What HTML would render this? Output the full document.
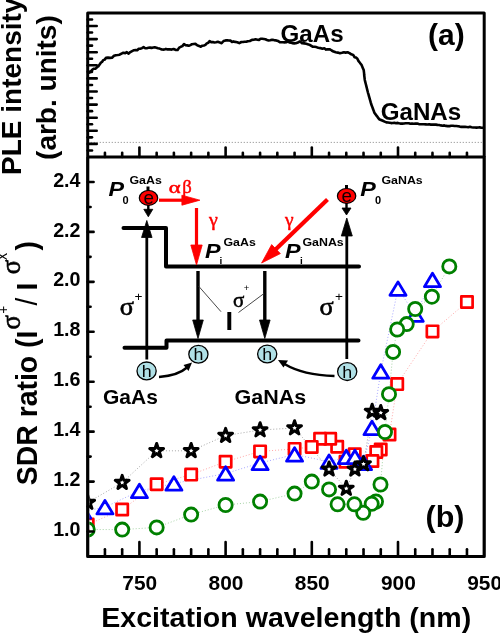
<!DOCTYPE html>
<html><head><meta charset="utf-8"><style>
html,body{margin:0;padding:0;background:#fff;overflow:hidden;}
svg{display:block;}
</style></head><body>
<svg width="500" height="634" viewBox="0 0 500 634">
<rect width="500" height="634" fill="#fff"/>
<line x1="87.7" y1="142.4" x2="484.2" y2="142.4" stroke="#999" stroke-width="1" stroke-dasharray="1.2 1.8"/>
<polyline fill="none" stroke="#000" stroke-width="2.6" stroke-linejoin="round" stroke-linecap="round" points="89.5,72.5 91.0,71.2 92.4,69.7 94.0,68.7 95.6,68.6 97.2,67.0 98.4,66.3 99.6,64.6 100.8,62.7 102.0,62.0 103.3,60.1 104.7,59.6 106.0,57.9 108.0,57.6 110.0,57.9 112.0,57.7 114.0,55.8 115.9,55.2 117.7,55.0 119.6,54.7 121.5,53.6 123.3,52.8 125.2,53.1 126.8,52.1 128.4,53.7 130.3,52.1 132.1,51.1 134.0,50.2 135.6,50.0 137.2,50.2 138.8,48.7 140.4,48.7 142.0,48.1 143.6,47.1 145.2,48.2 146.8,48.2 148.4,47.8 150.0,47.6 151.6,47.9 153.2,47.5 154.8,47.3 156.4,47.7 158.0,48.2 159.6,48.6 161.8,49.5 164.0,49.6 165.9,48.9 167.7,49.4 169.6,49.3 171.6,49.6 173.6,49.0 176.0,50.0 177.6,50.0 179.2,47.6 180.8,46.8 182.4,46.1 184.0,44.0 185.6,45.3 187.2,45.4 188.8,45.7 190.4,45.1 192.0,44.2 193.6,44.0 195.4,43.9 197.2,45.3 199.0,45.9 200.8,46.7 202.4,45.7 204.0,45.5 205.4,44.9 206.8,43.4 208.2,42.8 209.6,41.1 211.2,42.1 212.8,42.0 214.4,42.5 216.0,42.3 217.9,41.8 219.7,42.4 221.6,43.2 223.6,41.0 225.6,40.4 227.2,40.3 228.8,40.5 230.4,40.6 232.0,42.0 233.6,41.4 235.2,41.9 237.3,42.2 239.3,43.1 241.4,42.0 243.0,42.0 244.6,41.7 246.2,41.8 247.8,41.2 249.9,41.0 252.0,39.9 253.8,39.7 255.6,39.3 257.4,39.7 259.0,39.9 260.6,38.7 262.2,38.8 263.8,39.0 265.4,39.3 267.0,40.0 268.6,40.5 270.2,40.3 272.1,39.7 274.0,40.1 276.1,40.4 278.2,41.1 279.8,42.1 281.4,42.2 283.0,42.3 284.6,42.4 286.2,42.3 287.8,41.3 289.4,42.4 291.0,42.6 292.6,43.2 294.2,43.4 295.8,43.2 297.9,42.5 300.0,41.4 302.1,43.3 304.2,43.4 306.3,43.8 308.4,44.4 310.5,45.3 312.6,46.7 314.5,46.7 316.3,47.1 318.2,47.8 320.3,48.1 322.4,48.8 324.3,48.3 326.1,49.6 328.0,49.2 329.9,49.4 331.7,50.5 333.6,51.6 335.7,52.3 337.8,52.6 339.9,53.2 342.0,52.8 343.9,52.3 345.7,52.6 347.6,52.3 349.5,53.1 351.3,54.3 353.2,54.9 354.6,57.2 356.0,57.6 357.4,58.8 358.4,60.9 359.5,62.3 360.6,63.7 361.6,65.1 362.3,66.7 363.0,68.4 363.7,70.0 363.9,71.7 364.1,73.3 364.2,75.0 364.4,76.7 364.6,78.3 364.8,80.0 365.2,81.6 365.6,83.2 366.0,84.8 366.4,86.4 366.8,88.0 367.2,89.6 367.6,91.2 368.0,92.8 368.5,94.4 368.9,96.0 369.4,97.6 369.8,99.2 370.3,100.8 370.7,102.4 371.2,104.0 371.8,105.8 372.5,107.5 373.1,109.3 373.8,111.0 374.4,112.8 375.4,114.1 376.3,115.4 377.3,116.6 378.2,117.9 379.2,119.2 381.0,120.0 382.8,120.8 384.6,121.6 386.4,122.4 388.0,122.5 389.6,122.7 391.2,123.1 392.8,123.0 394.4,122.8 396.0,123.2 397.6,122.9 399.2,123.3 400.8,123.6 402.4,123.6 404.0,123.5 405.6,123.2 407.2,123.3 408.8,123.2 410.4,123.7 412.0,123.5 413.7,123.8 415.4,123.6 417.1,123.6 418.9,124.1 420.6,124.3 422.3,124.3 424.0,124.3 425.7,124.4 427.4,124.5 429.1,124.3 430.8,124.6 432.5,124.6 434.2,124.5 435.8,124.6 437.5,124.9 439.2,125.0 440.9,125.4 442.6,125.7 444.3,125.4 446.0,125.9 447.7,126.1 449.5,126.1 451.2,125.8 452.9,125.8 454.6,126.0 456.4,126.0 458.1,126.2 459.8,126.6 461.5,126.9 463.3,126.9 465.0,126.8 466.6,127.0 468.3,127.2 469.9,126.8 471.5,127.3 473.2,127.5 474.8,127.5 476.5,127.6 478.1,127.5 479.7,127.4 481.4,127.7 483.0,127.8"/>
<line x1="87.7" y1="19.45" x2="92.0" y2="19.45" stroke="#000" stroke-width="2.6" stroke-linecap="round"/>
<line x1="87.7" y1="26.00" x2="96.7" y2="26.00" stroke="#000" stroke-width="2.6" stroke-linecap="round"/>
<line x1="87.7" y1="32.55" x2="92.0" y2="32.55" stroke="#000" stroke-width="2.6" stroke-linecap="round"/>
<line x1="87.7" y1="39.10" x2="96.7" y2="39.10" stroke="#000" stroke-width="2.6" stroke-linecap="round"/>
<line x1="87.7" y1="45.65" x2="92.0" y2="45.65" stroke="#000" stroke-width="2.6" stroke-linecap="round"/>
<line x1="87.7" y1="52.20" x2="96.7" y2="52.20" stroke="#000" stroke-width="2.6" stroke-linecap="round"/>
<line x1="87.7" y1="58.75" x2="92.0" y2="58.75" stroke="#000" stroke-width="2.6" stroke-linecap="round"/>
<line x1="87.7" y1="65.30" x2="96.7" y2="65.30" stroke="#000" stroke-width="2.6" stroke-linecap="round"/>
<line x1="87.7" y1="71.85" x2="92.0" y2="71.85" stroke="#000" stroke-width="2.6" stroke-linecap="round"/>
<line x1="87.7" y1="78.40" x2="96.7" y2="78.40" stroke="#000" stroke-width="2.6" stroke-linecap="round"/>
<line x1="87.7" y1="84.95" x2="92.0" y2="84.95" stroke="#000" stroke-width="2.6" stroke-linecap="round"/>
<line x1="87.7" y1="91.50" x2="96.7" y2="91.50" stroke="#000" stroke-width="2.6" stroke-linecap="round"/>
<line x1="87.7" y1="98.05" x2="92.0" y2="98.05" stroke="#000" stroke-width="2.6" stroke-linecap="round"/>
<line x1="87.7" y1="104.60" x2="96.7" y2="104.60" stroke="#000" stroke-width="2.6" stroke-linecap="round"/>
<line x1="87.7" y1="111.15" x2="92.0" y2="111.15" stroke="#000" stroke-width="2.6" stroke-linecap="round"/>
<line x1="87.7" y1="117.70" x2="96.7" y2="117.70" stroke="#000" stroke-width="2.6" stroke-linecap="round"/>
<line x1="87.7" y1="124.25" x2="92.0" y2="124.25" stroke="#000" stroke-width="2.6" stroke-linecap="round"/>
<line x1="87.7" y1="130.80" x2="96.7" y2="130.80" stroke="#000" stroke-width="2.6" stroke-linecap="round"/>
<line x1="87.7" y1="137.35" x2="92.0" y2="137.35" stroke="#000" stroke-width="2.6" stroke-linecap="round"/>
<line x1="87.7" y1="143.90" x2="96.7" y2="143.90" stroke="#000" stroke-width="2.6" stroke-linecap="round"/>
<line x1="87.7" y1="150.45" x2="92.0" y2="150.45" stroke="#000" stroke-width="2.6" stroke-linecap="round"/>
<line x1="104.94" y1="157.0" x2="104.94" y2="152.8" stroke="#000" stroke-width="2.6" stroke-linecap="round"/>
<line x1="122.18" y1="157.0" x2="122.18" y2="152.8" stroke="#000" stroke-width="2.6" stroke-linecap="round"/>
<line x1="139.42" y1="157.0" x2="139.42" y2="147.6" stroke="#000" stroke-width="2.6" stroke-linecap="round"/>
<line x1="156.66" y1="157.0" x2="156.66" y2="152.8" stroke="#000" stroke-width="2.6" stroke-linecap="round"/>
<line x1="173.90" y1="157.0" x2="173.90" y2="152.8" stroke="#000" stroke-width="2.6" stroke-linecap="round"/>
<line x1="191.13" y1="157.0" x2="191.13" y2="152.8" stroke="#000" stroke-width="2.6" stroke-linecap="round"/>
<line x1="208.37" y1="157.0" x2="208.37" y2="152.8" stroke="#000" stroke-width="2.6" stroke-linecap="round"/>
<line x1="225.61" y1="157.0" x2="225.61" y2="147.6" stroke="#000" stroke-width="2.6" stroke-linecap="round"/>
<line x1="242.85" y1="157.0" x2="242.85" y2="152.8" stroke="#000" stroke-width="2.6" stroke-linecap="round"/>
<line x1="260.09" y1="157.0" x2="260.09" y2="152.8" stroke="#000" stroke-width="2.6" stroke-linecap="round"/>
<line x1="277.33" y1="157.0" x2="277.33" y2="152.8" stroke="#000" stroke-width="2.6" stroke-linecap="round"/>
<line x1="294.57" y1="157.0" x2="294.57" y2="152.8" stroke="#000" stroke-width="2.6" stroke-linecap="round"/>
<line x1="311.81" y1="157.0" x2="311.81" y2="147.6" stroke="#000" stroke-width="2.6" stroke-linecap="round"/>
<line x1="329.05" y1="157.0" x2="329.05" y2="152.8" stroke="#000" stroke-width="2.6" stroke-linecap="round"/>
<line x1="346.29" y1="157.0" x2="346.29" y2="152.8" stroke="#000" stroke-width="2.6" stroke-linecap="round"/>
<line x1="363.53" y1="157.0" x2="363.53" y2="152.8" stroke="#000" stroke-width="2.6" stroke-linecap="round"/>
<line x1="380.77" y1="157.0" x2="380.77" y2="152.8" stroke="#000" stroke-width="2.6" stroke-linecap="round"/>
<line x1="398.00" y1="157.0" x2="398.00" y2="147.6" stroke="#000" stroke-width="2.6" stroke-linecap="round"/>
<line x1="415.24" y1="157.0" x2="415.24" y2="152.8" stroke="#000" stroke-width="2.6" stroke-linecap="round"/>
<line x1="432.48" y1="157.0" x2="432.48" y2="152.8" stroke="#000" stroke-width="2.6" stroke-linecap="round"/>
<line x1="449.72" y1="157.0" x2="449.72" y2="152.8" stroke="#000" stroke-width="2.6" stroke-linecap="round"/>
<line x1="466.96" y1="157.0" x2="466.96" y2="152.8" stroke="#000" stroke-width="2.6" stroke-linecap="round"/>
<path d="M87.7,157.0 V12.9 H484.2 V157.0" fill="none" stroke="#000" stroke-width="3" stroke-linejoin="round"/>
<defs><clipPath id="cb"><rect x="89.3" y="158.6" width="393.3" height="396.3"/></clipPath></defs>
<g clip-path="url(#cb)">
<polyline fill="none" stroke="#f00" stroke-width="1" stroke-dasharray="1 2" stroke-opacity="0.35" points="87.7,524.6 122.2,509.5 156.7,484.2 191.1,474.6 225.6,461.7 260.1,451.4 294.6,448.9 311.7,446.9 320.1,438.8 330.2,438.8 337.2,446.7 345.5,461.8 354.7,454.2 372.4,461.0 376.3,452.0 380.7,449.5 389.5,434.5 397.2,384.1 432.5,331.4 467.0,302.0"/>
<polyline fill="none" stroke="#00f" stroke-width="1" stroke-dasharray="1 2" stroke-opacity="0.35" points="82.7,511.5 104.9,507.2 139.4,491.0 173.9,483.5 225.6,473.5 260.1,463.0 294.6,454.5 329.0,461.7 346.3,457.0 354.9,457.0 363.5,463.0 372.0,428.0 380.8,371.5 398.0,288.6 415.2,314.7 432.5,280.0"/>
<polyline fill="none" stroke="#008000" stroke-width="1" stroke-dasharray="1 2" stroke-opacity="0.35" points="87.7,529.5 122.2,529.6 156.7,527.4 191.1,514.6 225.6,505.0 260.1,501.6 294.6,493.6 311.8,481.6 329.0,489.4 337.6,504.3 354.4,504.3 363.2,512.8 371.7,503.8 376.0,501.5 380.5,484.5 385.0,432.0 389.0,394.2 393.1,351.9 397.2,329.5 406.7,324.1 415.2,309.0 431.9,296.7 449.3,266.4"/>
<polyline fill="none" stroke="#000" stroke-width="1" stroke-dasharray="1 2" stroke-opacity="0.35" points="87.7,502.5 122.2,482.6 156.7,450.8 191.1,450.8 225.6,435.6 260.1,430.0 294.6,428.0 329.0,469.2 346.3,488.5 354.9,469.2 363.5,464.0 372.1,411.5 380.8,412.8"/>
<rect x="461.31" y="296.35" width="11.3" height="11.3" fill="#fff" stroke="#f00" stroke-width="2.7" stroke-linejoin="round"/>
<rect x="426.83" y="325.75" width="11.3" height="11.3" fill="#fff" stroke="#f00" stroke-width="2.7" stroke-linejoin="round"/>
<rect x="391.55" y="378.45" width="11.3" height="11.3" fill="#fff" stroke="#f00" stroke-width="2.7" stroke-linejoin="round"/>
<rect x="383.85" y="428.85" width="11.3" height="11.3" fill="#fff" stroke="#f00" stroke-width="2.7" stroke-linejoin="round"/>
<rect x="375.05" y="443.85" width="11.3" height="11.3" fill="#fff" stroke="#f00" stroke-width="2.7" stroke-linejoin="round"/>
<rect x="370.65" y="446.35" width="11.3" height="11.3" fill="#fff" stroke="#f00" stroke-width="2.7" stroke-linejoin="round"/>
<rect x="366.75" y="455.35" width="11.3" height="11.3" fill="#fff" stroke="#f00" stroke-width="2.7" stroke-linejoin="round"/>
<rect x="349.05" y="448.55" width="11.3" height="11.3" fill="#fff" stroke="#f00" stroke-width="2.7" stroke-linejoin="round"/>
<rect x="339.85" y="456.15" width="11.3" height="11.3" fill="#fff" stroke="#f00" stroke-width="2.7" stroke-linejoin="round"/>
<rect x="331.55" y="441.05" width="11.3" height="11.3" fill="#fff" stroke="#f00" stroke-width="2.7" stroke-linejoin="round"/>
<rect x="324.55" y="433.15" width="11.3" height="11.3" fill="#fff" stroke="#f00" stroke-width="2.7" stroke-linejoin="round"/>
<rect x="314.45" y="433.15" width="11.3" height="11.3" fill="#fff" stroke="#f00" stroke-width="2.7" stroke-linejoin="round"/>
<rect x="306.05" y="441.25" width="11.3" height="11.3" fill="#fff" stroke="#f00" stroke-width="2.7" stroke-linejoin="round"/>
<rect x="288.92" y="443.25" width="11.3" height="11.3" fill="#fff" stroke="#f00" stroke-width="2.7" stroke-linejoin="round"/>
<rect x="254.44" y="445.75" width="11.3" height="11.3" fill="#fff" stroke="#f00" stroke-width="2.7" stroke-linejoin="round"/>
<rect x="219.96" y="456.05" width="11.3" height="11.3" fill="#fff" stroke="#f00" stroke-width="2.7" stroke-linejoin="round"/>
<rect x="185.48" y="468.95" width="11.3" height="11.3" fill="#fff" stroke="#f00" stroke-width="2.7" stroke-linejoin="round"/>
<rect x="151.01" y="478.55" width="11.3" height="11.3" fill="#fff" stroke="#f00" stroke-width="2.7" stroke-linejoin="round"/>
<rect x="116.53" y="503.85" width="11.3" height="11.3" fill="#fff" stroke="#f00" stroke-width="2.7" stroke-linejoin="round"/>
<rect x="82.05" y="518.95" width="11.3" height="11.3" fill="#fff" stroke="#f00" stroke-width="2.7" stroke-linejoin="round"/>
<polygon points="82.70,504.80 90.75,518.20 74.65,518.20" fill="#fff" stroke="#00f" stroke-width="2.8" stroke-linejoin="round"/>
<polygon points="104.94,500.50 112.99,513.90 96.89,513.90" fill="#fff" stroke="#00f" stroke-width="2.8" stroke-linejoin="round"/>
<polygon points="139.42,484.30 147.47,497.70 131.37,497.70" fill="#fff" stroke="#00f" stroke-width="2.8" stroke-linejoin="round"/>
<polygon points="173.90,476.80 181.95,490.20 165.85,490.20" fill="#fff" stroke="#00f" stroke-width="2.8" stroke-linejoin="round"/>
<polygon points="225.61,466.80 233.66,480.20 217.56,480.20" fill="#fff" stroke="#00f" stroke-width="2.8" stroke-linejoin="round"/>
<polygon points="260.09,456.30 268.14,469.70 252.04,469.70" fill="#fff" stroke="#00f" stroke-width="2.8" stroke-linejoin="round"/>
<polygon points="294.57,447.80 302.62,461.20 286.52,461.20" fill="#fff" stroke="#00f" stroke-width="2.8" stroke-linejoin="round"/>
<polygon points="329.05,455.00 337.10,468.40 321.00,468.40" fill="#fff" stroke="#00f" stroke-width="2.8" stroke-linejoin="round"/>
<polygon points="346.29,450.30 354.34,463.70 338.24,463.70" fill="#fff" stroke="#00f" stroke-width="2.8" stroke-linejoin="round"/>
<polygon points="354.91,450.30 362.96,463.70 346.86,463.70" fill="#fff" stroke="#00f" stroke-width="2.8" stroke-linejoin="round"/>
<polygon points="363.53,456.30 371.58,469.70 355.48,469.70" fill="#fff" stroke="#00f" stroke-width="2.8" stroke-linejoin="round"/>
<polygon points="372.00,421.30 380.05,434.70 363.95,434.70" fill="#fff" stroke="#00f" stroke-width="2.8" stroke-linejoin="round"/>
<polygon points="380.77,364.80 388.82,378.20 372.72,378.20" fill="#fff" stroke="#00f" stroke-width="2.8" stroke-linejoin="round"/>
<polygon points="398.00,281.90 406.05,295.30 389.95,295.30" fill="#fff" stroke="#00f" stroke-width="2.8" stroke-linejoin="round"/>
<polygon points="415.24,308.00 423.29,321.40 407.19,321.40" fill="#fff" stroke="#00f" stroke-width="2.8" stroke-linejoin="round"/>
<polygon points="432.48,273.30 440.53,286.70 424.43,286.70" fill="#fff" stroke="#00f" stroke-width="2.8" stroke-linejoin="round"/>
<circle cx="449.30" cy="266.40" r="6.6" fill="#fff" stroke="#008000" stroke-width="2.8"/>
<circle cx="431.90" cy="296.70" r="6.6" fill="#fff" stroke="#008000" stroke-width="2.8"/>
<circle cx="415.20" cy="309.00" r="6.6" fill="#fff" stroke="#008000" stroke-width="2.8"/>
<circle cx="406.70" cy="324.10" r="6.6" fill="#fff" stroke="#008000" stroke-width="2.8"/>
<circle cx="397.20" cy="329.50" r="6.6" fill="#fff" stroke="#008000" stroke-width="2.8"/>
<circle cx="393.10" cy="351.90" r="6.6" fill="#fff" stroke="#008000" stroke-width="2.8"/>
<circle cx="389.00" cy="394.20" r="6.6" fill="#fff" stroke="#008000" stroke-width="2.8"/>
<circle cx="385.00" cy="432.00" r="6.6" fill="#fff" stroke="#008000" stroke-width="2.8"/>
<circle cx="380.50" cy="484.50" r="6.6" fill="#fff" stroke="#008000" stroke-width="2.8"/>
<circle cx="376.00" cy="501.50" r="6.6" fill="#fff" stroke="#008000" stroke-width="2.8"/>
<circle cx="371.70" cy="503.80" r="6.6" fill="#fff" stroke="#008000" stroke-width="2.8"/>
<circle cx="363.20" cy="512.80" r="6.6" fill="#fff" stroke="#008000" stroke-width="2.8"/>
<circle cx="354.40" cy="504.30" r="6.6" fill="#fff" stroke="#008000" stroke-width="2.8"/>
<circle cx="337.60" cy="504.30" r="6.6" fill="#fff" stroke="#008000" stroke-width="2.8"/>
<circle cx="329.05" cy="489.40" r="6.6" fill="#fff" stroke="#008000" stroke-width="2.8"/>
<circle cx="311.81" cy="481.60" r="6.6" fill="#fff" stroke="#008000" stroke-width="2.8"/>
<circle cx="294.57" cy="493.60" r="6.6" fill="#fff" stroke="#008000" stroke-width="2.8"/>
<circle cx="260.09" cy="501.60" r="6.6" fill="#fff" stroke="#008000" stroke-width="2.8"/>
<circle cx="225.61" cy="505.00" r="6.6" fill="#fff" stroke="#008000" stroke-width="2.8"/>
<circle cx="191.13" cy="514.60" r="6.6" fill="#fff" stroke="#008000" stroke-width="2.8"/>
<circle cx="156.66" cy="527.40" r="6.6" fill="#fff" stroke="#008000" stroke-width="2.8"/>
<circle cx="122.18" cy="529.60" r="6.6" fill="#fff" stroke="#008000" stroke-width="2.8"/>
<circle cx="87.70" cy="529.50" r="6.6" fill="#fff" stroke="#008000" stroke-width="2.8"/>
<polygon points="87.70,495.24 89.33,500.26 94.60,500.26 90.34,503.36 91.97,508.37 87.70,505.27 83.43,508.37 85.06,503.36 80.80,500.26 86.07,500.26" fill="#fff" stroke="#000" stroke-width="3" stroke-linejoin="round"/>
<polygon points="122.18,475.34 123.81,480.36 129.08,480.36 124.82,483.46 126.45,488.47 122.18,485.37 117.91,488.47 119.54,483.46 115.27,480.36 120.55,480.36" fill="#fff" stroke="#000" stroke-width="3" stroke-linejoin="round"/>
<polygon points="156.66,443.54 158.29,448.56 163.56,448.56 159.29,451.66 160.92,456.67 156.66,453.57 152.39,456.67 154.02,451.66 149.75,448.56 155.03,448.56" fill="#fff" stroke="#000" stroke-width="3" stroke-linejoin="round"/>
<polygon points="191.13,443.54 192.76,448.56 198.04,448.56 193.77,451.66 195.40,456.67 191.13,453.57 186.87,456.67 188.50,451.66 184.23,448.56 189.50,448.56" fill="#fff" stroke="#000" stroke-width="3" stroke-linejoin="round"/>
<polygon points="225.61,428.34 227.24,433.36 232.52,433.36 228.25,436.46 229.88,441.47 225.61,438.37 221.35,441.47 222.98,436.46 218.71,433.36 223.98,433.36" fill="#fff" stroke="#000" stroke-width="3" stroke-linejoin="round"/>
<polygon points="260.09,422.74 261.72,427.76 267.00,427.76 262.73,430.86 264.36,435.87 260.09,432.77 255.82,435.87 257.45,430.86 253.19,427.76 258.46,427.76" fill="#fff" stroke="#000" stroke-width="3" stroke-linejoin="round"/>
<polygon points="294.57,420.74 296.20,425.76 301.47,425.76 297.21,428.86 298.84,433.87 294.57,430.77 290.30,433.87 291.93,428.86 287.66,425.76 292.94,425.76" fill="#fff" stroke="#000" stroke-width="3" stroke-linejoin="round"/>
<polygon points="329.05,461.94 330.68,466.96 335.95,466.96 331.69,470.06 333.32,475.07 329.05,471.97 324.78,475.07 326.41,470.06 322.14,466.96 327.42,466.96" fill="#fff" stroke="#000" stroke-width="3" stroke-linejoin="round"/>
<polygon points="346.29,481.24 347.92,486.26 353.19,486.26 348.92,489.36 350.55,494.37 346.29,491.27 342.02,494.37 343.65,489.36 339.38,486.26 344.66,486.26" fill="#fff" stroke="#000" stroke-width="3" stroke-linejoin="round"/>
<polygon points="354.91,461.94 356.54,466.96 361.81,466.96 357.54,470.06 359.17,475.07 354.91,471.97 350.64,475.07 352.27,470.06 348.00,466.96 353.28,466.96" fill="#fff" stroke="#000" stroke-width="3" stroke-linejoin="round"/>
<polygon points="363.53,456.74 365.16,461.76 370.43,461.76 366.16,464.86 367.79,469.87 363.53,466.77 359.26,469.87 360.89,464.86 356.62,461.76 361.90,461.76" fill="#fff" stroke="#000" stroke-width="3" stroke-linejoin="round"/>
<polygon points="372.15,404.24 373.78,409.26 379.05,409.26 374.78,412.36 376.41,417.37 372.15,414.27 367.88,417.37 369.51,412.36 365.24,409.26 370.52,409.26" fill="#fff" stroke="#000" stroke-width="3" stroke-linejoin="round"/>
<polygon points="380.77,405.54 382.40,410.56 387.67,410.56 383.40,413.66 385.03,418.67 380.77,415.57 376.50,418.67 378.13,413.66 373.86,410.56 379.14,410.56" fill="#fff" stroke="#000" stroke-width="3" stroke-linejoin="round"/>
</g>
<line x1="87.7" y1="531.53" x2="93.60000000000001" y2="531.53" stroke="#000" stroke-width="2.6" stroke-linecap="round"/>
<line x1="87.7" y1="506.56" x2="90.60000000000001" y2="506.56" stroke="#000" stroke-width="2.6" stroke-linecap="round"/>
<line x1="87.7" y1="481.59" x2="93.60000000000001" y2="481.59" stroke="#000" stroke-width="2.6" stroke-linecap="round"/>
<line x1="87.7" y1="456.62" x2="90.60000000000001" y2="456.62" stroke="#000" stroke-width="2.6" stroke-linecap="round"/>
<line x1="87.7" y1="431.66" x2="93.60000000000001" y2="431.66" stroke="#000" stroke-width="2.6" stroke-linecap="round"/>
<line x1="87.7" y1="406.69" x2="90.60000000000001" y2="406.69" stroke="#000" stroke-width="2.6" stroke-linecap="round"/>
<line x1="87.7" y1="381.72" x2="93.60000000000001" y2="381.72" stroke="#000" stroke-width="2.6" stroke-linecap="round"/>
<line x1="87.7" y1="356.75" x2="90.60000000000001" y2="356.75" stroke="#000" stroke-width="2.6" stroke-linecap="round"/>
<line x1="87.7" y1="331.78" x2="93.60000000000001" y2="331.78" stroke="#000" stroke-width="2.6" stroke-linecap="round"/>
<line x1="87.7" y1="306.81" x2="90.60000000000001" y2="306.81" stroke="#000" stroke-width="2.6" stroke-linecap="round"/>
<line x1="87.7" y1="281.84" x2="93.60000000000001" y2="281.84" stroke="#000" stroke-width="2.6" stroke-linecap="round"/>
<line x1="87.7" y1="256.87" x2="90.60000000000001" y2="256.87" stroke="#000" stroke-width="2.6" stroke-linecap="round"/>
<line x1="87.7" y1="231.91" x2="93.60000000000001" y2="231.91" stroke="#000" stroke-width="2.6" stroke-linecap="round"/>
<line x1="87.7" y1="206.94" x2="90.60000000000001" y2="206.94" stroke="#000" stroke-width="2.6" stroke-linecap="round"/>
<line x1="87.7" y1="181.97" x2="93.60000000000001" y2="181.97" stroke="#000" stroke-width="2.6" stroke-linecap="round"/>
<line x1="104.94" y1="556.5" x2="104.94" y2="549.3" stroke="#000" stroke-width="2.6" stroke-linecap="round"/>
<line x1="122.18" y1="556.5" x2="122.18" y2="549.3" stroke="#000" stroke-width="2.6" stroke-linecap="round"/>
<line x1="139.42" y1="556.5" x2="139.42" y2="542.1" stroke="#000" stroke-width="2.6" stroke-linecap="round"/>
<line x1="156.66" y1="556.5" x2="156.66" y2="549.3" stroke="#000" stroke-width="2.6" stroke-linecap="round"/>
<line x1="173.90" y1="556.5" x2="173.90" y2="549.3" stroke="#000" stroke-width="2.6" stroke-linecap="round"/>
<line x1="191.13" y1="556.5" x2="191.13" y2="549.3" stroke="#000" stroke-width="2.6" stroke-linecap="round"/>
<line x1="208.37" y1="556.5" x2="208.37" y2="549.3" stroke="#000" stroke-width="2.6" stroke-linecap="round"/>
<line x1="225.61" y1="556.5" x2="225.61" y2="542.1" stroke="#000" stroke-width="2.6" stroke-linecap="round"/>
<line x1="242.85" y1="556.5" x2="242.85" y2="549.3" stroke="#000" stroke-width="2.6" stroke-linecap="round"/>
<line x1="260.09" y1="556.5" x2="260.09" y2="549.3" stroke="#000" stroke-width="2.6" stroke-linecap="round"/>
<line x1="277.33" y1="556.5" x2="277.33" y2="549.3" stroke="#000" stroke-width="2.6" stroke-linecap="round"/>
<line x1="294.57" y1="556.5" x2="294.57" y2="549.3" stroke="#000" stroke-width="2.6" stroke-linecap="round"/>
<line x1="311.81" y1="556.5" x2="311.81" y2="542.1" stroke="#000" stroke-width="2.6" stroke-linecap="round"/>
<line x1="329.05" y1="556.5" x2="329.05" y2="549.3" stroke="#000" stroke-width="2.6" stroke-linecap="round"/>
<line x1="346.29" y1="556.5" x2="346.29" y2="549.3" stroke="#000" stroke-width="2.6" stroke-linecap="round"/>
<line x1="363.53" y1="556.5" x2="363.53" y2="549.3" stroke="#000" stroke-width="2.6" stroke-linecap="round"/>
<line x1="380.77" y1="556.5" x2="380.77" y2="549.3" stroke="#000" stroke-width="2.6" stroke-linecap="round"/>
<line x1="398.00" y1="556.5" x2="398.00" y2="542.1" stroke="#000" stroke-width="2.6" stroke-linecap="round"/>
<line x1="415.24" y1="556.5" x2="415.24" y2="549.3" stroke="#000" stroke-width="2.6" stroke-linecap="round"/>
<line x1="432.48" y1="556.5" x2="432.48" y2="549.3" stroke="#000" stroke-width="2.6" stroke-linecap="round"/>
<line x1="449.72" y1="556.5" x2="449.72" y2="549.3" stroke="#000" stroke-width="2.6" stroke-linecap="round"/>
<line x1="466.96" y1="556.5" x2="466.96" y2="549.3" stroke="#000" stroke-width="2.6" stroke-linecap="round"/>
<path d="M87.7,157.0 V556.5 H484.2 V157.0 H87.7" fill="none" stroke="#000" stroke-width="3.2" stroke-linejoin="round"/>
<text transform="translate(80.5,536.1) scale(0.97,1)" font-family="Liberation Sans, Arial, sans-serif" font-weight="bold" font-size="20.3" text-anchor="end">1.0</text>
<text transform="translate(80.5,486.2) scale(0.97,1)" font-family="Liberation Sans, Arial, sans-serif" font-weight="bold" font-size="20.3" text-anchor="end">1.2</text>
<text transform="translate(80.5,436.3) scale(0.97,1)" font-family="Liberation Sans, Arial, sans-serif" font-weight="bold" font-size="20.3" text-anchor="end">1.4</text>
<text transform="translate(80.5,386.3) scale(0.97,1)" font-family="Liberation Sans, Arial, sans-serif" font-weight="bold" font-size="20.3" text-anchor="end">1.6</text>
<text transform="translate(80.5,336.4) scale(0.97,1)" font-family="Liberation Sans, Arial, sans-serif" font-weight="bold" font-size="20.3" text-anchor="end">1.8</text>
<text transform="translate(80.5,286.4) scale(0.97,1)" font-family="Liberation Sans, Arial, sans-serif" font-weight="bold" font-size="20.3" text-anchor="end">2.0</text>
<text transform="translate(80.5,236.5) scale(0.97,1)" font-family="Liberation Sans, Arial, sans-serif" font-weight="bold" font-size="20.3" text-anchor="end">2.2</text>
<text transform="translate(80.5,186.6) scale(0.97,1)" font-family="Liberation Sans, Arial, sans-serif" font-weight="bold" font-size="20.3" text-anchor="end">2.4</text>
<text transform="translate(139.8,589.5) scale(1.02,1)" font-family="Liberation Sans, Arial, sans-serif" font-weight="bold" font-size="20.5" text-anchor="middle">750</text>
<text transform="translate(226.0,589.5) scale(1.02,1)" font-family="Liberation Sans, Arial, sans-serif" font-weight="bold" font-size="20.5" text-anchor="middle">800</text>
<text transform="translate(312.2,589.5) scale(1.02,1)" font-family="Liberation Sans, Arial, sans-serif" font-weight="bold" font-size="20.5" text-anchor="middle">850</text>
<text transform="translate(398.4,589.5) scale(1.02,1)" font-family="Liberation Sans, Arial, sans-serif" font-weight="bold" font-size="20.5" text-anchor="middle">900</text>
<text transform="translate(484.6,589.5) scale(1.02,1)" font-family="Liberation Sans, Arial, sans-serif" font-weight="bold" font-size="20.5" text-anchor="middle">950</text>
<text x="286.2" y="626.6" font-family="Liberation Sans, Arial, sans-serif" font-weight="bold" font-size="28.3" text-anchor="middle" textLength="370" lengthAdjust="spacingAndGlyphs">Excitation wavelength (nm)</text>
<text transform="translate(20.8,86.3) rotate(-90)" font-family="Liberation Sans, Arial, sans-serif" font-weight="bold" font-size="28" text-anchor="middle">PLE intensity</text>
<text transform="translate(55.8,87.6) rotate(-90)" font-family="Liberation Sans, Arial, sans-serif" font-weight="bold" font-size="28" text-anchor="middle">(arb. units)</text>
<g transform="translate(37,484) rotate(-90) scale(1,1.05)"><text y="0" x="-1.2" font-family="Liberation Sans, Arial, sans-serif" font-weight="bold" font-size="28.4">SDR ratio (I</text><text y="-16.3" x="154.6" font-family="Liberation Serif, Times New Roman, serif" font-size="26.5" stroke="#000" stroke-width="0.6">σ</text><text y="-27.5" x="170.3" font-family="Liberation Sans, Arial, sans-serif" font-size="13.5">+</text><text y="0" x="178.6" font-family="Liberation Sans, Arial, sans-serif" font-size="28">/</text><text y="0" x="193.6" font-family="Liberation Sans, Arial, sans-serif" font-weight="bold" font-size="28.4">I</text><text y="-16.3" x="209.8" font-family="Liberation Serif, Times New Roman, serif" font-size="26.5" stroke="#000" stroke-width="0.6">σ</text><text y="-29" x="223.7" font-family="Liberation Sans, Arial, sans-serif" font-size="15">x</text><text y="0" x="233.4" font-family="Liberation Sans, Arial, sans-serif" font-weight="bold" font-size="28.4">)</text></g>
<text transform="translate(428,45) scale(1.05,1)" font-family="Liberation Sans, Arial, sans-serif" font-weight="bold" font-size="28.6">(a)</text>
<text transform="translate(425.5,526.5) scale(1.05,1)" font-family="Liberation Sans, Arial, sans-serif" font-weight="bold" font-size="29">(b)</text>
<text transform="translate(280.5,41.5) scale(1.05,1)" font-family="Liberation Sans, Arial, sans-serif" font-weight="bold" font-size="23">GaAs</text>
<text transform="translate(380.7,120.4) scale(1.05,1)" font-family="Liberation Sans, Arial, sans-serif" font-weight="bold" font-size="23">GaNAs</text>
<path d="M123.5,228 H166 V266.6 H359" fill="none" stroke="#000" stroke-width="4" stroke-linecap="round" stroke-linejoin="round"/>
<path d="M124.5,347.8 H166.5 V340.5 H358.5" fill="none" stroke="#000" stroke-width="4" stroke-linecap="round" stroke-linejoin="round"/>
<line x1="146.80" y1="359.50" x2="146.80" y2="236.50" stroke="#000" stroke-width="2.8"/><polygon points="146.80,220.50 152.05,237.50 141.55,237.50" fill="#000" stroke="#000" stroke-width="0.8" stroke-linejoin="round"/>
<line x1="346.80" y1="359.00" x2="346.80" y2="235.00" stroke="#000" stroke-width="2.8"/><polygon points="346.80,218.00 352.30,236.00 341.30,236.00" fill="#000" stroke="#000" stroke-width="0.8" stroke-linejoin="round"/>
<line x1="198.00" y1="271.00" x2="198.00" y2="321.00" stroke="#000" stroke-width="3.4"/><polygon points="198.00,338.50 192.70,320.00 203.30,320.00" fill="#000" stroke="#000" stroke-width="0.8" stroke-linejoin="round"/>
<line x1="264.80" y1="271.00" x2="264.80" y2="321.00" stroke="#000" stroke-width="3.4"/><polygon points="264.80,338.50 259.50,320.00 270.10,320.00" fill="#000" stroke="#000" stroke-width="0.8" stroke-linejoin="round"/>
<line x1="148.30" y1="204.00" x2="148.30" y2="210.30" stroke="#000" stroke-width="2.4"/><polygon points="148.30,216.80 143.80,209.30 152.80,209.30" fill="#000" stroke="#000" stroke-width="0.8" stroke-linejoin="round"/>
<line x1="346.50" y1="202.00" x2="346.50" y2="209.00" stroke="#000" stroke-width="2.4"/><polygon points="346.50,215.00 342.00,208.00 351.00,208.00" fill="#000" stroke="#000" stroke-width="0.8" stroke-linejoin="round"/>
<line x1="148" y1="186.5" x2="148" y2="191" stroke="#000" stroke-width="3"/>
<line x1="346.5" y1="185" x2="346.5" y2="189" stroke="#000" stroke-width="3"/>
<line x1="198.5" y1="286" x2="221" y2="311.7" stroke="#333" stroke-width="0.9"/>
<line x1="264" y1="293.5" x2="238.5" y2="312.5" stroke="#333" stroke-width="0.9"/>
<line x1="159.00" y1="200.20" x2="182.90" y2="200.20" stroke="#f00" stroke-width="3.2"/><polygon points="199.90,200.20 181.90,205.20 181.90,195.20" fill="#f00" stroke="#f00" stroke-width="0.8" stroke-linejoin="round"/>
<line x1="196.50" y1="208.00" x2="196.50" y2="246.00" stroke="#f00" stroke-width="3.2"/><polygon points="196.50,265.00 190.80,245.00 202.20,245.00" fill="#f00" stroke="#f00" stroke-width="0.8" stroke-linejoin="round"/>
<line x1="327.50" y1="199.50" x2="275.28" y2="249.82" stroke="#f00" stroke-width="4.2"/><polygon points="261.60,263.00 271.67,244.62 280.34,253.62" fill="#f00" stroke="#f00" stroke-width="0.8" stroke-linejoin="round"/>
<ellipse cx="148.5" cy="197.9" rx="9.2" ry="7.4" fill="#f00" stroke="#000" stroke-width="1.2"/>
<text transform="translate(148.7,203.5) scale(1.05,1)" font-family="Liberation Sans, Arial, sans-serif" font-size="18" text-anchor="middle" fill="#100">e</text>
<ellipse cx="346.6" cy="195.9" rx="9.2" ry="7.4" fill="#f00" stroke="#000" stroke-width="1.2"/>
<text transform="translate(346.8,201.5) scale(1.05,1)" font-family="Liberation Sans, Arial, sans-serif" font-size="18" text-anchor="middle" fill="#100">e</text>
<ellipse cx="146.6" cy="370.9" rx="9.6" ry="8.9" fill="#b0e0e6" stroke="#000" stroke-width="1.3"/>
<text transform="translate(146.6,376.9) scale(1.05,1)" font-family="Liberation Sans, Arial, sans-serif" font-size="17" text-anchor="middle" fill="#000">h</text>
<ellipse cx="198.4" cy="354.3" rx="9.6" ry="8.9" fill="#b0e0e6" stroke="#000" stroke-width="1.3"/>
<text transform="translate(198.4,360.3) scale(1.05,1)" font-family="Liberation Sans, Arial, sans-serif" font-size="17" text-anchor="middle" fill="#000">h</text>
<ellipse cx="267.2" cy="354" rx="9.6" ry="8.9" fill="#b0e0e6" stroke="#000" stroke-width="1.3"/>
<text transform="translate(267.2,360.0) scale(1.05,1)" font-family="Liberation Sans, Arial, sans-serif" font-size="17" text-anchor="middle" fill="#000">h</text>
<ellipse cx="347.2" cy="371.6" rx="9.6" ry="8.9" fill="#b0e0e6" stroke="#000" stroke-width="1.3"/>
<text transform="translate(347.2,377.6) scale(1.05,1)" font-family="Liberation Sans, Arial, sans-serif" font-size="17" text-anchor="middle" fill="#000">h</text>
<path d="M159,377 C172,376 182,372 187,367.5" fill="none" stroke="#000" stroke-width="2.4"/>
<polygon points="192,362.5 183.5,365 188.5,371" fill="#000"/>
<path d="M334.5,376 C316,375.5 297,371.5 284.5,364" fill="none" stroke="#000" stroke-width="2.5"/>
<polygon points="278,360 288,360.5 283.5,367.5" fill="#000"/>
<text transform="translate(108.4,196.2) scale(1.18,1)" font-family="Liberation Sans, Arial, sans-serif" font-weight="bold" font-style="italic" font-size="19.8">P</text>
<text transform="translate(122.6,204.2) scale(1.05,1)" font-family="Liberation Sans, Arial, sans-serif" font-weight="bold" font-size="10.5">0</text>
<text transform="translate(129.5,184) scale(1.05,1)" font-family="Liberation Sans, Arial, sans-serif" font-weight="bold" font-size="11.8">GaAs</text>
<text transform="translate(360.3,196.2) scale(1.18,1)" font-family="Liberation Sans, Arial, sans-serif" font-weight="bold" font-style="italic" font-size="19.8">P</text>
<text transform="translate(375,204.2) scale(1.05,1)" font-family="Liberation Sans, Arial, sans-serif" font-weight="bold" font-size="10.5">0</text>
<text transform="translate(381.5,184) scale(1.05,1)" font-family="Liberation Sans, Arial, sans-serif" font-weight="bold" font-size="11.8">GaNAs</text>
<text transform="translate(205,258.2) scale(1.18,1)" font-family="Liberation Sans, Arial, sans-serif" font-weight="bold" font-style="italic" font-size="19.8">P</text>
<text transform="translate(219.6,264.4) scale(1.05,1)" font-family="Liberation Sans, Arial, sans-serif" font-size="9.5" font-weight="bold">i</text>
<text transform="translate(223.5,246) scale(1.05,1)" font-family="Liberation Sans, Arial, sans-serif" font-weight="bold" font-size="11.8">GaAs</text>
<text transform="translate(285,257.6) scale(1.18,1)" font-family="Liberation Sans, Arial, sans-serif" font-weight="bold" font-style="italic" font-size="19.8">P</text>
<text transform="translate(300,264.4) scale(1.05,1)" font-family="Liberation Sans, Arial, sans-serif" font-size="9.5" font-weight="bold">i</text>
<text transform="translate(302.5,245.5) scale(1.05,1)" font-family="Liberation Sans, Arial, sans-serif" font-weight="bold" font-size="11.8">GaNAs</text>
<text transform="translate(119.8,315.3) scale(1.05,1)" font-family="Liberation Serif, Times New Roman, serif" font-size="25" stroke="#000" stroke-width="0.6">σ</text><text transform="translate(134.6,301.2) scale(1.05,1)" font-family="Liberation Sans, Arial, sans-serif" font-size="13">+</text>
<text transform="translate(319.6,315.1) scale(1.05,1)" font-family="Liberation Serif, Times New Roman, serif" font-size="25" stroke="#000" stroke-width="0.6">σ</text><text transform="translate(335,301) scale(1.05,1)" font-family="Liberation Sans, Arial, sans-serif" font-size="13">+</text>
<text transform="translate(233,306.8) scale(1.05,1)" font-family="Liberation Serif, Times New Roman, serif" font-size="20" stroke="#000" stroke-width="0.5">σ</text><text transform="translate(243.8,291) scale(1.05,1)" font-family="Liberation Sans, Arial, sans-serif" font-size="9">+</text>
<text transform="translate(225.6,330) scale(1.05,1)" font-family="Liberation Sans, Arial, sans-serif" font-weight="bold" font-size="26">I</text>
<text transform="translate(103,404.3) scale(1.05,1)" font-family="Liberation Sans, Arial, sans-serif" font-weight="bold" font-size="20">GaAs</text>
<text transform="translate(234.5,403.6) scale(1.05,1)" font-family="Liberation Sans, Arial, sans-serif" font-weight="bold" font-size="20.5">GaNAs</text>
<text transform="translate(168.8,193.3) scale(1.4,1)" font-family="Liberation Serif, Times New Roman, serif" font-size="16.2" fill="#f00" stroke="#f00" stroke-width="0.45">α</text><text transform="translate(182.2,193.3) scale(1.05,1)" font-family="Liberation Serif, Times New Roman, serif" font-size="17.8" fill="#f00" stroke="#f00" stroke-width="0.45">β</text>
<text transform="translate(209,226.3) scale(1.05,1)" font-family="Liberation Serif, Times New Roman, serif" font-size="19" fill="#f00" stroke="#f00" stroke-width="0.45">γ</text>
<text transform="translate(285,225.5) scale(1.05,1)" font-family="Liberation Serif, Times New Roman, serif" font-size="18.5" fill="#f00" stroke="#f00" stroke-width="0.45">γ</text>
</svg></body></html>
